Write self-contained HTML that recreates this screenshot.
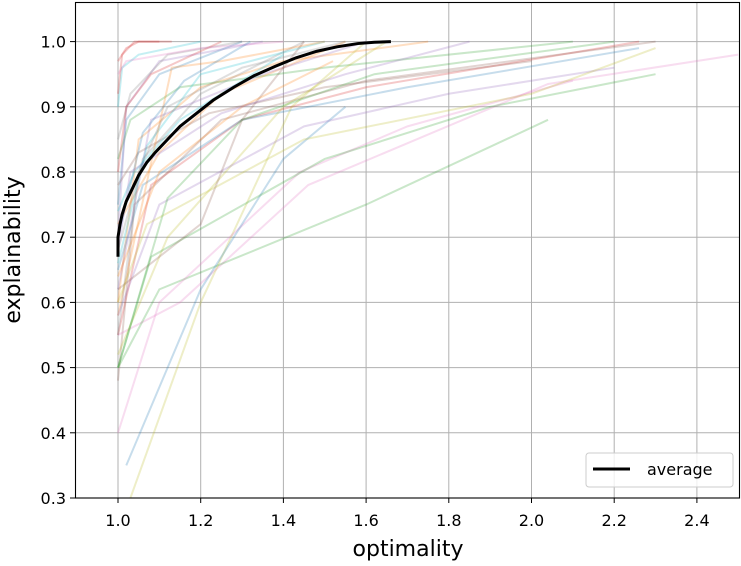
<!DOCTYPE html>
<html><head><meta charset="utf-8"><style>
body{margin:0;background:#fff}
svg text{font-family:"DejaVu Sans","Liberation Sans",sans-serif;fill:#000}
</style></head><body>
<svg id="chart" width="741" height="561" xmlns="http://www.w3.org/2000/svg">
<defs><clipPath id="pc"><rect x="75.5" y="2.5" width="664" height="495.5"/></clipPath></defs>
<g id="grid"></g>
<g id="series" clip-path="url(#pc)"></g>
<g id="avg" clip-path="url(#pc)"></g>
<rect x="75.5" y="2.5" width="664" height="495.5" fill="none" stroke="#000" stroke-width="1.1"/>
<g id="ticks"></g>
<text x="408" y="556" font-size="22" text-anchor="middle">optimality</text>
<text transform="translate(20,250) rotate(-90)" font-size="22" text-anchor="middle">explainability</text>
<g>
<rect x="586" y="453" width="147" height="34" rx="3" fill="#fff" fill-opacity="0.8" stroke="#ccc"/>
<line x1="593" y1="469" x2="630" y2="469" stroke="#000" stroke-width="3"/>
<text x="647" y="475" font-size="16">average</text>
</g>
</svg>
<script>
const xTicks=[1.0,1.2,1.4,1.6,1.8,2.0,2.2,2.4];
const yTicks=[0.3,0.4,0.5,0.6,0.7,0.8,0.9,1.0];
const avgX=[1.0,1.0,1.005,1.01,1.02,1.035,1.05,1.07,1.09,1.12,1.15,1.19,1.23,1.28,1.33,1.38,1.43,1.48,1.53,1.58,1.62,1.66];
const avgY=[0.67,0.70,0.72,0.735,0.755,0.775,0.795,0.815,0.83,0.85,0.87,0.89,0.91,0.93,0.948,0.962,0.975,0.985,0.992,0.997,0.999,1.0];
const seriesX=[
[1.0,1.02,1.1,1.3],[1.0,1.05,1.2,1.4,1.75],[1.0,1.03,1.15,1.5,2.1],[1.0,1.08,1.3,1.6,2.26],[1.0,1.02,1.1,1.35],
[1.0,1.04,1.25,1.6,2.3],[1.0,1.15,1.46,2.04,2.5],[1.0,1.06,1.2,1.45],[1.03,1.2,1.42,1.6],[1.0,1.01,1.05,1.2],
[1.0,1.06,1.3,1.7,2.26],[1.0,1.1,1.25,1.55],[1.0,1.1,1.6,2.04],[1.0,1.02,1.05,1.13],[1.0,1.08,1.35,1.6],
[1.0,1.05,1.22,1.5,2.0],[1.0,1.1,1.44,1.7,2.1],[1.0,1.03,1.12,1.3],[1.0,1.12,1.4,1.65],[1.0,1.07,1.2,1.5],
[1.02,1.2,1.4,1.55],[1.0,1.13,1.25,1.5],[1.0,1.08,1.5,1.9,2.3],[1.0,1.02,1.08,1.25],[1.0,1.1,1.45,1.8,2.2],
[1.0,1.2,1.3,1.45],[1.0,1.02,1.2,1.4],[1.0,1.05,1.12,1.3,1.55],[1.0,1.07,1.45,2.0,2.3],[1.0,1.04,1.15,1.4],
[1.0,1.06,1.16,1.32],[1.0,1.1,1.3,1.52],[1.0,1.12,1.3,1.62,2.2],[1.0,1.01,1.04,1.1],[1.0,1.03,1.25,1.55,1.85]];
const seriesY=[
[0.75,0.88,0.95,1.0],[0.6,0.85,0.93,0.97,1.0],[0.82,0.88,0.93,0.96,1.0],[0.55,0.78,0.88,0.93,1.0],[0.7,0.9,0.97,1.0],
[0.48,0.75,0.88,0.94,1.0],[0.55,0.6,0.78,0.935,0.98],[0.68,0.82,0.92,1.0],[0.3,0.6,0.9,1.0],[0.9,0.96,0.98,1.0],
[0.65,0.78,0.88,0.93,0.99],[0.72,0.83,0.92,1.0],[0.5,0.62,0.75,0.88],[0.97,0.99,1.0,1.0],[0.62,0.88,0.95,1.0],
[0.78,0.83,0.89,0.93,0.97],[0.4,0.6,0.8,0.87,0.94],[0.85,0.92,0.98,1.0],[0.52,0.7,0.9,1.0],[0.66,0.84,0.95,1.0],
[0.35,0.62,0.82,0.9],[0.58,0.96,0.97,1.0],[0.5,0.67,0.82,0.9,0.95],[0.8,0.9,0.95,1.0],[0.58,0.75,0.87,0.92,0.96],
[0.62,0.72,0.88,1.0],[0.95,0.97,0.99,1.0],[0.55,0.8,0.9,0.96,1.0],[0.6,0.72,0.85,0.92,0.99],[0.74,0.8,0.88,0.98],
[0.7,0.86,0.94,1.0],[0.64,0.8,0.9,0.97],[0.5,0.76,0.88,0.95,1.0],[0.92,0.98,1.0,1.0],[0.68,0.8,0.89,0.95,1.0]];
const colors=["#1f77b4","#ff7f0e","#2ca02c","#d62728","#9467bd","#8c564b","#e377c2","#7f7f7f","#bcbd22","#17becf"];
const NS="http://www.w3.org/2000/svg";
const X0=118,XS=82.7/0.2,Y0=498,YS=65.2/0.1;
const sx=v=>X0+(v-1.0)*XS, sy=v=>Y0-(v-0.3)*YS;
function mk(tag,parent){const e=document.createElementNS(NS,tag);parent.appendChild(e);return e;}
const grid=document.getElementById('grid'),ticks=document.getElementById('ticks');
xTicks.forEach(t=>{const l=mk('line',grid);


l.setAttribute('x1',sx(t));l.setAttribute('x2',sx(t));l.setAttribute('y1',2);l.setAttribute('y2',498);l.setAttribute('stroke','#b0b0b0');l.setAttribute('stroke-width','1');
const tk=mk('line',ticks);tk.setAttribute('x1',sx(t));tk.setAttribute('x2',sx(t));tk.setAttribute('y1',498);tk.setAttribute('y2',503);tk.setAttribute('stroke','#000');
const tx=mk('text',ticks);


tx.setAttribute('x',sx(t));tx.setAttribute('y',526);tx.setAttribute('font-size','16');tx.setAttribute('text-anchor','middle');tx.textContent=t.toFixed(1);});
yTicks.forEach(t=>{const l=mk('line',grid);


l.setAttribute('x1',75);l.setAttribute('x2',740);l.setAttribute('y1',sy(t));l.setAttribute('y2',sy(t));l.setAttribute('stroke','#b0b0b0');l.setAttribute('stroke-width','1');
const tk=mk('line',ticks);tk.setAttribute('x1',70);tk.setAttribute('x2',75);tk.setAttribute('y1',sy(t));tk.setAttribute('y2',sy(t));tk.setAttribute('stroke','#000');
const tx=mk('text',ticks);


tx.setAttribute('x',66);tx.setAttribute('y',sy(t)+6);tx.setAttribute('font-size','16');tx.setAttribute('text-anchor','end');tx.textContent=t.toFixed(1);});
const sg=document.getElementById('series');
seriesX.forEach((xs,i)=>{const p=mk('polyline',sg);


p.setAttribute('points',xs.map((x,j)=>sx(x)+','+sy(seriesY[i][j])).join(' '));
p.setAttribute('fill','none');p.setAttribute('stroke',colors[i%10]);p.setAttribute('stroke-opacity','0.25');p.setAttribute('stroke-width','2');});
const a=mk('polyline',document.getElementById('avg'));


a.setAttribute('points',avgX.map((x,j)=>sx(x)+','+sy(avgY[j])).join(' '));
a.setAttribute('fill','none');a.setAttribute('stroke','#000');a.setAttribute('stroke-width','3');
</script>
</body></html>
